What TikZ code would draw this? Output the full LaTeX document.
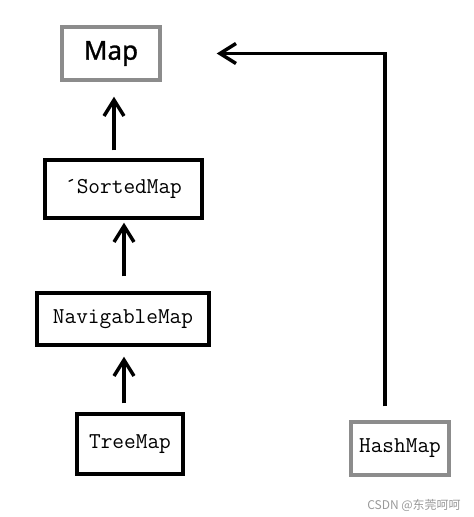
\documentclass[tikz,border=0pt]{standalone}
\usepackage{fontspec}
\newfontfamily\mapfont[FakeBold=1.2]{Noto Sans}
\newfontfamily\cjk{Noto Sans CJK SC}
\usetikzlibrary{arrows.meta}
\begin{document}
\begin{tikzpicture}[x=0.75pt,y=-0.75pt,
  box/.style={draw,line width=2.6pt,inner sep=0pt,font=\ttfamily\fontsize{17}{20}\selectfont},
  greybox/.style={box,draw=black!45},
  arr/.style={line width=2.6pt,-{Straight Barb[length=12pt,width=15pt,line width=2.6pt]}}]
\useasboundingbox (0,0) rectangle (474,517);
\node[greybox,minimum width=73.5pt,minimum height=39.75pt,font=\mapfont\fontsize{19.5}{22}\selectfont] (Map) at (111,53.5) {Map};
\node[box,minimum width=117.75pt,minimum height=43.5pt] (SortedMap) at (123.5,189) {´SortedMap};
\node[box,minimum width=129pt,minimum height=39pt] (NavigableMap) at (123,319) {NavigableMap};
\node[box,minimum width=79.5pt,minimum height=45pt] (TreeMap) at (130,444) {TreeMap};
\node[greybox,minimum width=73.5pt,minimum height=39.75pt] (HashMap) at (400,448.5) {HashMap};
\draw[arr] ([shift={(-9.5,-8)}]SortedMap.north) -- ([shift={(3,15)}]Map.south);
\draw[arr] ([shift={(1,-15)}]NavigableMap.north) -- ([shift={(0.5,3)}]SortedMap.south);
\draw[arr] ([shift={(-6,-9)}]TreeMap.north) -- ([shift={(1,10)}]NavigableMap.south);
\draw[arr] ([shift={(-15,-14)}]HashMap.north) |- ([shift={(55,0)}]Map.east);
\node[text=black!40,font=\cjk\fontsize{9}{10}\selectfont] (mark) at (414,505) {CSDN @东莞呵呵};
\end{tikzpicture}
\end{document}
